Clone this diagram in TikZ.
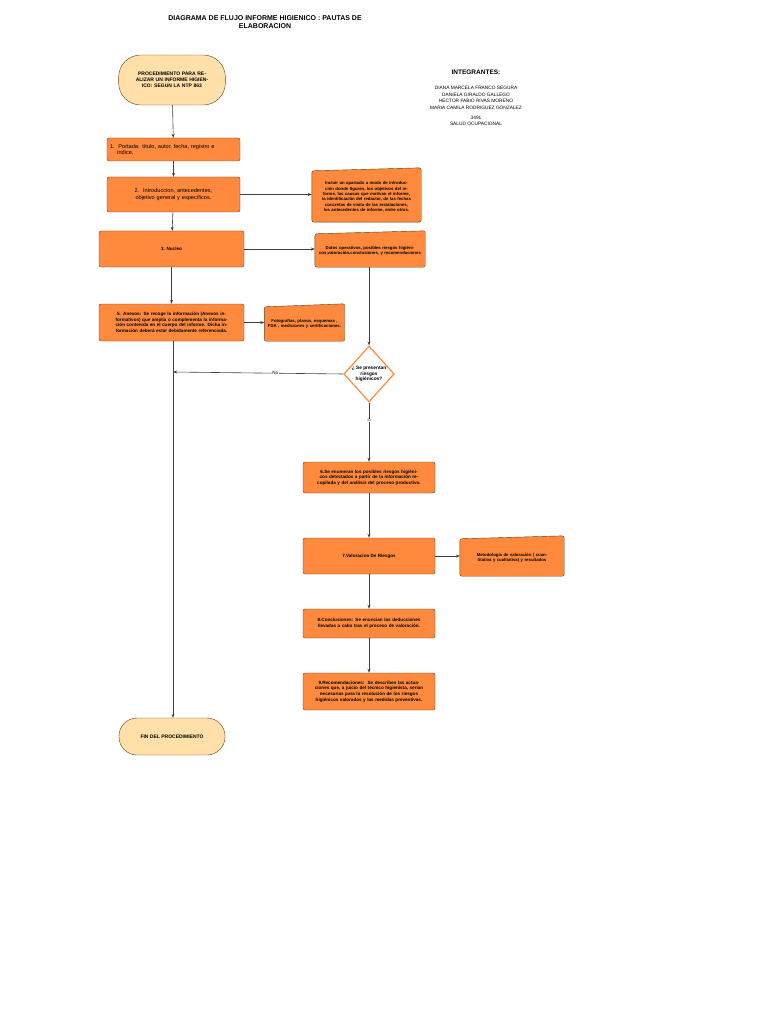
\documentclass[tikz,border=0pt]{standalone}
\usepackage{fontspec}
\setmainfont{Liberation Sans}
\usetikzlibrary{shapes.geometric,arrows.meta}
\definecolor{org}{HTML}{FF8A3D}
\definecolor{pale}{HTML}{FFE0A8}
\definecolor{edge}{HTML}{6B3A1A}
\tikzset{
 box/.style={draw=edge,fill=org,rounded corners=2pt,align=center,font=\fontsize{4.6}{5.6}\selectfont\bfseries,inner sep=2pt},
 man/.style={draw=none,align=center,font=\fontsize{4.3}{5.4}\selectfont\bfseries,inner sep=2pt},
 pill/.style={draw=edge,fill=pale,rounded corners=22pt,align=center,font=\fontsize{5}{6}\selectfont\bfseries},
 arr/.style={draw=black!75,-{Stealth[length=4pt,width=3pt]},line width=0.6pt},
 lin/.style={draw=black!75,line width=0.6pt}
}
\newcommand{\manshape}[1]{\filldraw[edge,fill=org,rounded corners=2pt] (#1.south west) -- ($(#1.north west)+(0,3)$) -- (#1.north east) -- (#1.south east) -- cycle;}
\usetikzlibrary{calc}
\begin{document}
\begin{tikzpicture}[x=1pt,y=-1pt]
\useasboundingbox (0,0) rectangle (768,1024);
\node[font=\fontsize{7}{8.5}\selectfont\bfseries,align=center] (title) at (265,22) {DIAGRAMA DE FLUJO INFORME HIGIENICO : PAUTAS DE\\ELABORACION};
\node[pill,minimum width=106pt,minimum height=50pt,text width=100pt] (start) at (172,80) {PROCEDIMIENTO PARA REALIZAR UN INFORME HIGIENICO: SEGUN LA NTP 863};
\node[font=\fontsize{6.5}{8}\selectfont\bfseries] (integ) at (476,72) {INTEGRANTES:};
\node[font=\fontsize{4.8}{6.4}\selectfont,align=center,anchor=north] (names) at (476,83) {DIANA MARCELA FRANCO SEGURA\\DANIELA GIRALDO GALLEGO\\HECTOR FABIO RIVAS MORENO\\MARIA CAMILA RODRIGUEZ GONZALEZ\\[4pt]3491\\SALUD OCUPACIONAL};
\node[box,minimum width=133pt,minimum height=23pt,text width=127pt,align=left,font=\fontsize{5.6}{6.6}\selectfont] (b1) at (173.5,149.5) {1.\ \ Portada: título, autor, fecha, registro e\\\hspace*{7pt}índice.};
\node[box,minimum width=133pt,minimum height=35pt,text width=120pt,font=\fontsize{5.6}{6.6}\selectfont] (b2) at (173.5,194.5) {2.\ \ Introduccion, antecedentes, objetivo general y específicos.};
\node[box,minimum width=145pt,minimum height=36pt] (b3) at (171.5,249) {3. Nucleo};
\node[box,minimum width=145pt,minimum height=37pt,text width=138pt] (b5) at (171.5,322.5) {5. Anexos: Se recoge la información (Anexos informativos) que amplía o complementa la información contenida en el cuerpo del informe. Dicha información deberá estar debidamente referenciada.};
\node[man,minimum width=109pt,minimum height=54pt,text width=104pt] (r1) at (366.5,195) {};
\manshape{r1}
\node[man,text width=104pt] at (366.5,197) {Incluir un apartado a modo de introducción donde figuren, los objetivos del informe, las causas que motivan el informe, la identificación del redactor, de las fechas concretas de visita de las instalaciones, los antecedentes de informe, entre otros.};
\node[man,minimum width=110pt,minimum height=36pt,text width=104pt] (r2) at (370,249) {};
\manshape{r2}
\node[man,text width=104pt] at (370,251) {Datos operativos, posibles riesgos higiénicos,valoración,conclusiones, y recomendaciones};
\node[man,minimum width=79pt,minimum height=37pt,text width=76pt] (r5) at (304.5,322.5) {};
\manshape{r5}
\node[man,text width=76pt] at (304.5,324) {Fotografías, planos, esquemas , FDA , mediciones y certificaciones.};
\node[diamond,draw=org,line width=1.2pt,fill=white,minimum width=50pt,minimum height=56pt,inner sep=0pt,align=center,font=\fontsize{4.8}{5.8}\selectfont\bfseries] (d) at (369,374) {¿ Se presentan\\riesgos\\higiénicos?};
\node[box,minimum width=132pt,minimum height=31pt,text width=126pt] (b6) at (369,477.5) {6.Se enumeran los posibles riesgos higiénicos detectados a partir de la información recopilada y del análisis del proceso productivo.};
\node[box,minimum width=132pt,minimum height=36pt] (b7) at (369,556) {7.Valoracion De Riesgos};
\node[man,minimum width=104pt,minimum height=40pt,text width=100pt] (r7) at (512,556) {};
\manshape{r7}
\node[man,text width=100pt] at (512,558) {Metodología de valoración ( cuantitativa y cualitativa) y resultados};
\node[box,minimum width=132pt,minimum height=29pt,text width=128pt] (b8) at (369,623.5) {8.Conclusiones: Se enuncian las deducciones llevadas a cabo tras el proceso de valoración.};
\node[box,minimum width=132pt,minimum height=37pt,text width=128pt] (b9) at (369,691.5) {9.Recomendaciones:\ \ Se describen las actuaciones que, a juicio del técnico higienista, serían necesarias para la resolución de los riesgos higiénicos valorados y las medidas preventivas.};
\node[pill,minimum width=106pt,minimum height=37pt,rounded corners=18pt] (end) at (172,736.5) {FIN DEL PROCEDIMIENTO};
\coordinate (j) at (173,372);
\draw[arr] (start) -- (b1);
\draw[arr] (b1) -- (b2);
\draw[arr] (b2) -- (b3);
\draw[arr] (b3) -- (b5);
\draw[lin] (b5.south -| j) -- (j);
\draw[arr] (j) -- (end.north -| j);
\draw[arr] (b2) -- (r1.west |- b2);
\draw[arr] (b3) -- (r2.west |- b3);
\draw[arr] (b5) -- (r5.west |- b5);
\draw[arr] (r2.south -| d) -- (d.north);
\draw[arr] (d.west) -- node[pos=0.4,fill=white,inner sep=0.5pt,font=\fontsize{4.5}{5}\selectfont]{No} (j);
\draw[arr] (d.south) -- node[pos=0.3,fill=white,inner sep=0.5pt,font=\fontsize{3.5}{4}\selectfont]{Si} (b6.north);
\draw[arr] (b6) -- (b7);
\draw[arr] (b7) -- (r7.west |- b7);
\draw[arr] (b7) -- (b8);
\draw[arr] (b8) -- (b9);
\end{tikzpicture}
\end{document}
